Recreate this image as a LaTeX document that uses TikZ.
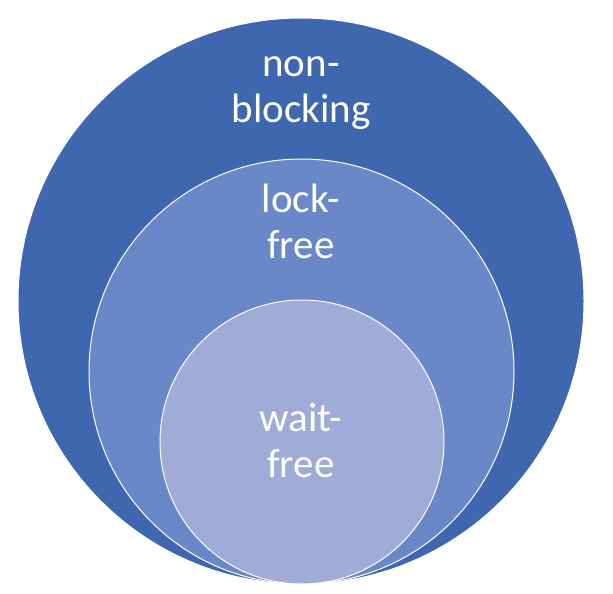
\documentclass[tikz,border=0pt]{standalone}
\usepackage{fontspec}
\setmainfont{Carlito}
\definecolor{outerblue}{RGB}{62,103,176}
\definecolor{midblue}{RGB}{106,136,199}
\definecolor{innerblue}{RGB}{158,172,215}
\begin{document}
\begin{tikzpicture}[x=1pt,y=-1pt,
  ring/.style={circle, draw=white, line width=1pt, inner sep=0pt},
  lbl/.style={text=white, align=center, anchor=base,
    font=\fontsize{41pt}{46pt}\selectfont}]
\useasboundingbox (0,0) rectangle (613,594);
\node[ring, fill=outerblue, minimum size=566pt] (outer) at (301,301) {};
\node[ring, fill=midblue, minimum size=425pt] (mid) at (301.5,371.5) {};
\node[ring, fill=innerblue, minimum size=284pt] (inner) at (302,442) {};
\node[lbl] (tnb) at (301,122) {non-\\blocking};
\node[lbl] (tlf) at (301,258) {lock-\\free};
\node[lbl] (twf) at (301,477) {wait-\\free};
\end{tikzpicture}
\end{document}
